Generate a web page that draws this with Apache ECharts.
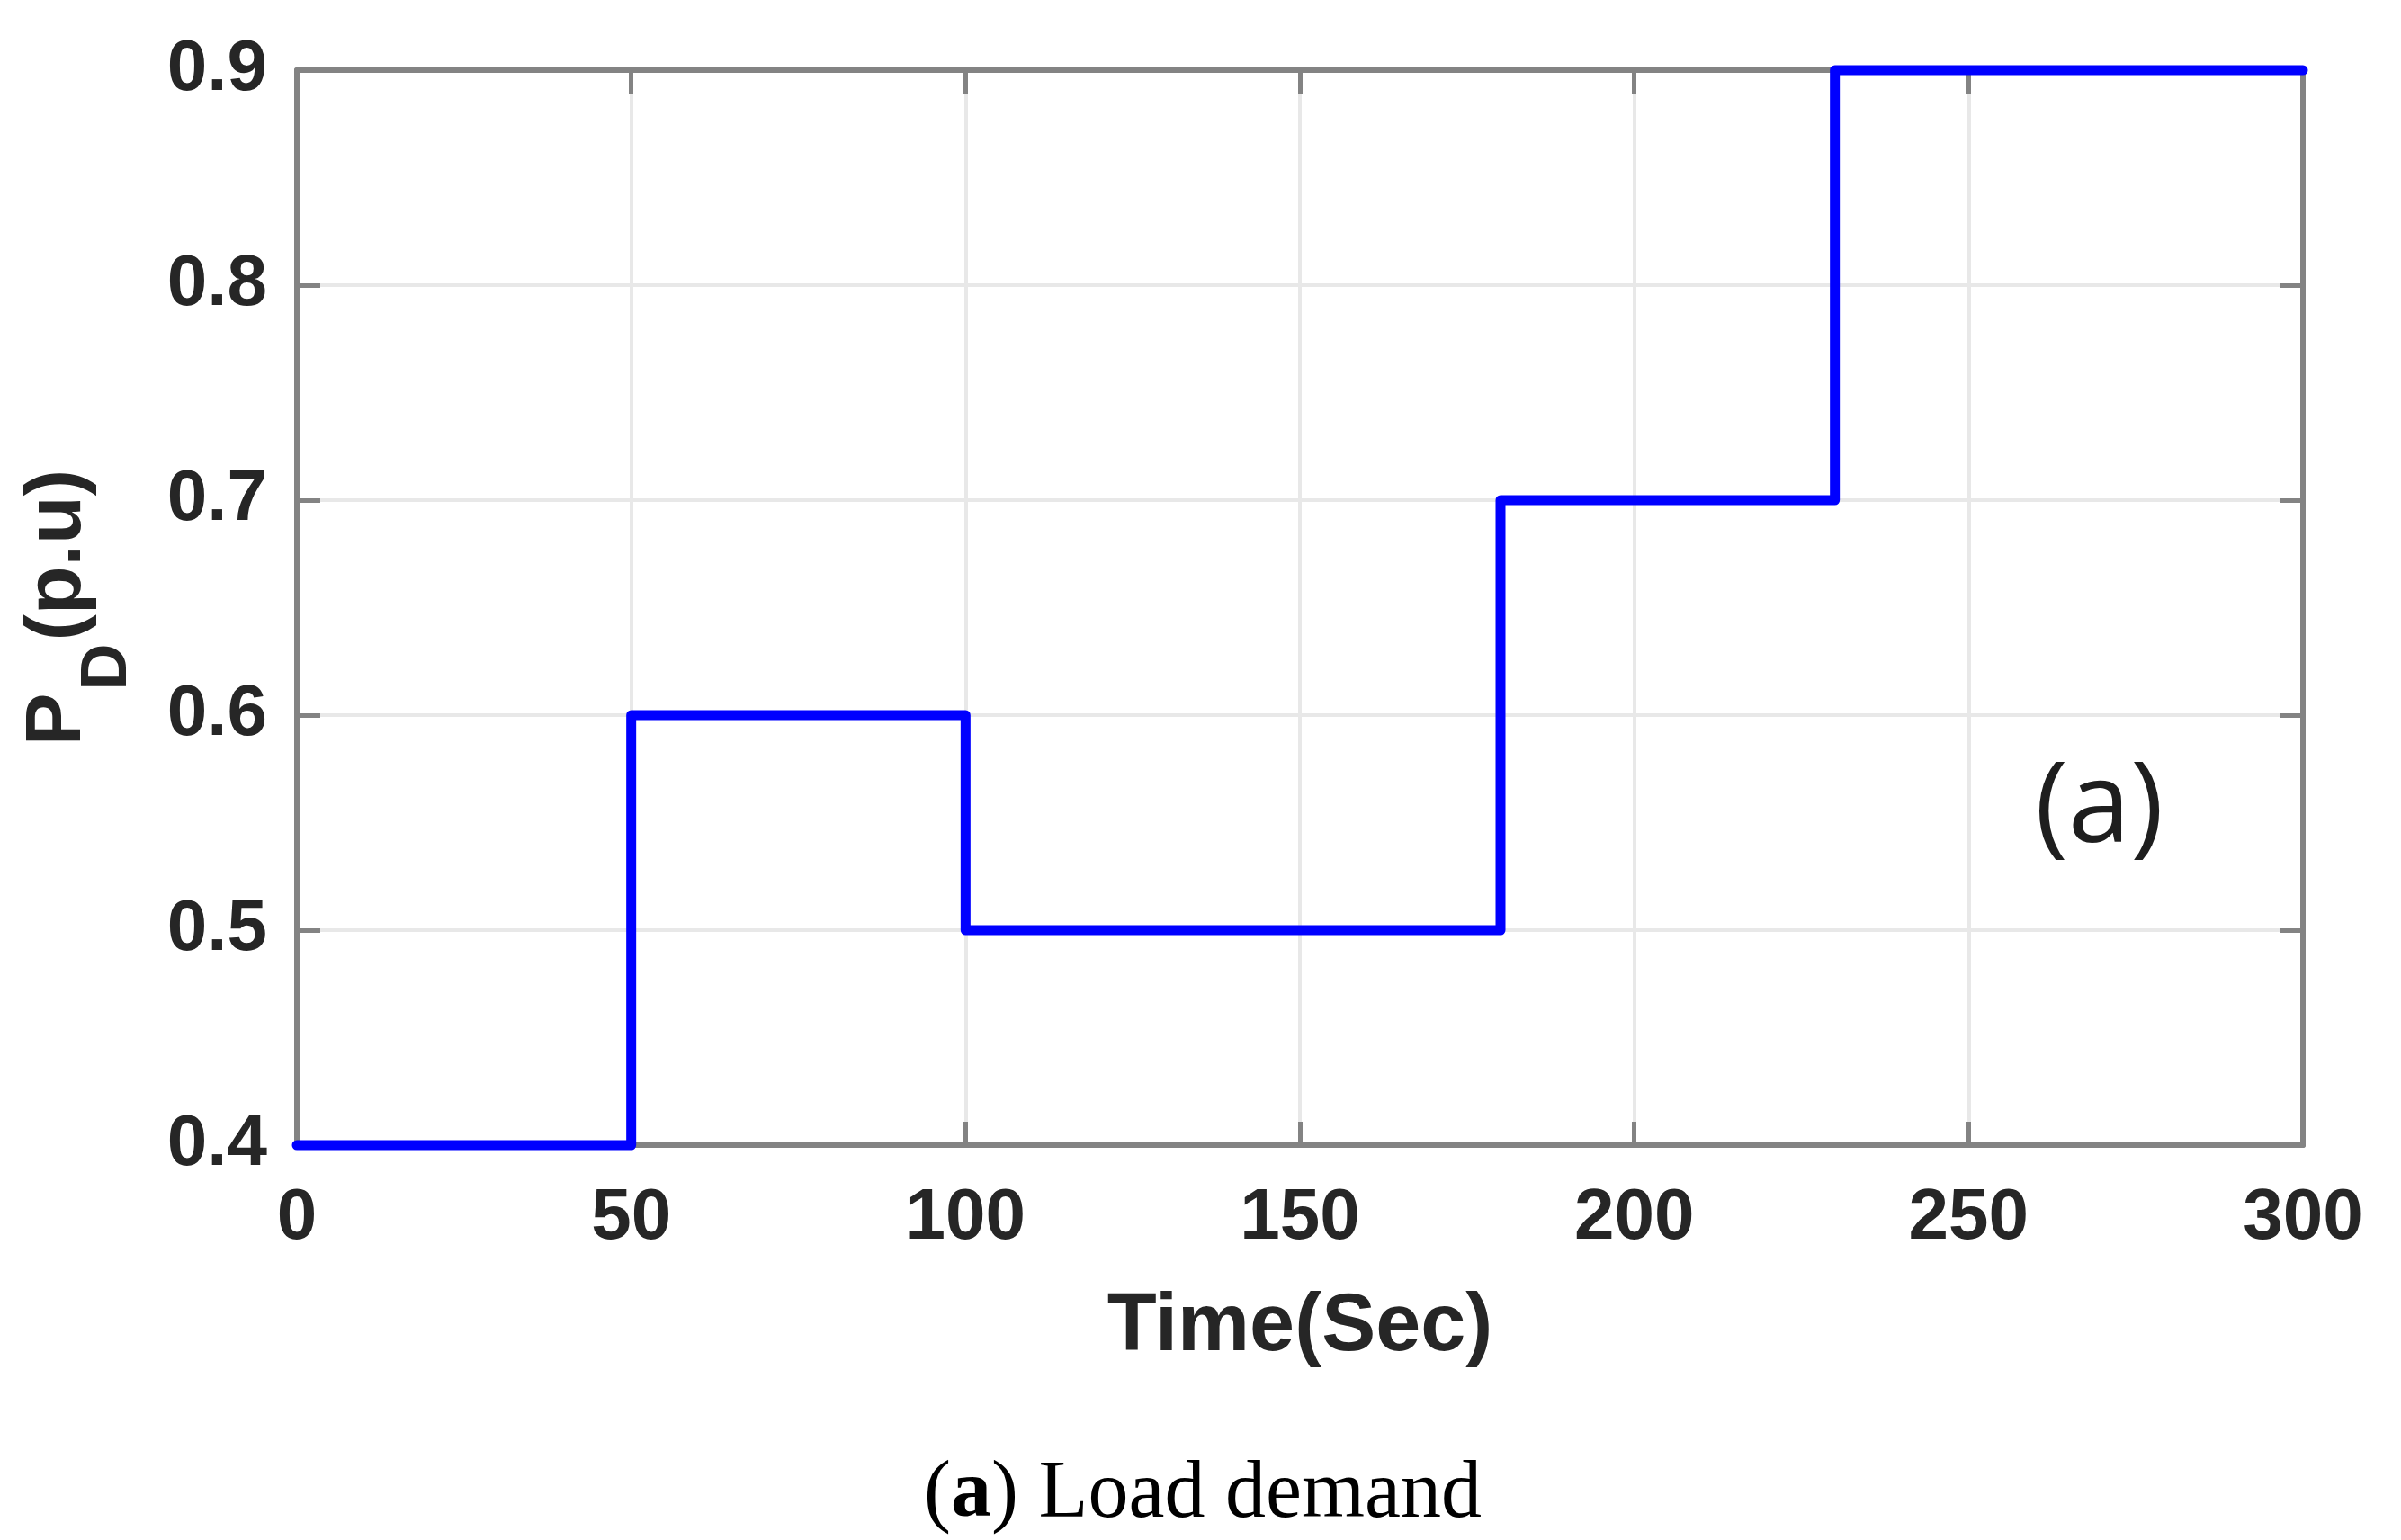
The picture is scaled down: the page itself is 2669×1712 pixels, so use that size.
<!DOCTYPE html>
<html>
<head>
<meta charset="utf-8">
<script src="https://cdn.jsdelivr.net/npm/echarts@6/dist/echarts.min.js"></script>
<style>
html,body{margin:0;padding:0;background:#fff;}
#chart{width:2669px;height:1712px;}
</style>
</head>
<body>
<div id="chart"></div>
<script>
// Data
var times = [0, 50, 100, 180, 230, 300];
var demand = [0.4, 0.6, 0.5, 0.7, 0.9, 0.9];
var xTicks = [0, 50, 100, 150, 200, 250, 300];
var yTicks = [0.4, 0.5, 0.6, 0.7, 0.8, 0.9];
var xTitle = 'Time(Sec)';
var panelTag = '(a)';
var captionBold = 'a';
var captionText = ' Load demand';

var points = times.map(function (t, i) { return [t, demand[i]]; });

var axisGray = '#838383';
var gridGray = '#e8e8e8';
var sans = '"Liberation Sans", Arial, Helvetica, sans-serif';

var chart = echarts.init(document.getElementById('chart'));
chart.setOption({
  backgroundColor: '#ffffff',
  animation: false,
  grid: { left: 330, right: 109, top: 78, bottom: 439, containLabel: false },
  xAxis: [{
    type: 'value', position: 'bottom',
    min: xTicks[0], max: xTicks[xTicks.length - 1], interval: xTicks[1] - xTicks[0],
    axisLine: { show: true, onZero: false, lineStyle: { color: axisGray, width: 6 } },
    axisTick: { show: true, inside: true, length: 26, lineStyle: { color: axisGray, width: 5 } },
    splitLine: { show: true, lineStyle: { color: gridGray, width: 4 } },
    axisLabel: { fontSize: 80, fontWeight: 'bold', fontFamily: sans, color: '#262626', margin: 42 },
    name: xTitle, nameLocation: 'middle', nameGap: 158,
    nameTextStyle: { fontSize: 90, fontWeight: 'bold', fontFamily: sans, color: '#262626' }
  }, {
    type: 'value', position: 'top',
    min: xTicks[0], max: xTicks[xTicks.length - 1], interval: xTicks[1] - xTicks[0],
    axisLine: { show: true, onZero: false, lineStyle: { color: axisGray, width: 6 } },
    axisTick: { show: true, inside: true, length: 26, lineStyle: { color: axisGray, width: 5 } },
    splitLine: { show: false },
    axisLabel: { show: false }
  }],
  yAxis: [{
    type: 'value', position: 'left',
    min: yTicks[0], max: yTicks[yTicks.length - 1], interval: 0.1,
    axisLine: { show: true, onZero: false, lineStyle: { color: axisGray, width: 6 } },
    axisTick: { show: true, inside: true, length: 26, lineStyle: { color: axisGray, width: 5 } },
    splitLine: { show: true, lineStyle: { color: gridGray, width: 4 } },
    axisLabel: {
      fontSize: 80, fontWeight: 'bold', fontFamily: sans, color: '#262626', margin: 33,
      formatter: function (v) { return v.toFixed(1); }
    },
    name: '{p|P}{d|D}{p|(p.u)}', nameLocation: 'middle', nameGap: 174,
    nameTextStyle: {
      fontFamily: sans, color: '#262626',
      rich: {
        p: { fontSize: 88, fontWeight: 'bold', fontFamily: sans, color: '#262626', verticalAlign: 'top', lineHeight: 100 },
        d: { fontSize: 72, fontWeight: 'bold', fontFamily: sans, color: '#262626', verticalAlign: 'bottom', lineHeight: 135, padding: [0, 3, 0, 3] }
      }
    }
  }, {
    type: 'value', position: 'right',
    min: yTicks[0], max: yTicks[yTicks.length - 1], interval: 0.1,
    axisLine: { show: true, onZero: false, lineStyle: { color: axisGray, width: 6 } },
    axisTick: { show: true, inside: true, length: 26, lineStyle: { color: axisGray, width: 5 } },
    splitLine: { show: false },
    axisLabel: { show: false }
  }],
  series: [{
    type: 'line',
    xAxisIndex: 0, yAxisIndex: 0,
    data: points,
    step: 'end',
    showSymbol: false,
    clip: false,
    lineStyle: { color: '#0000ff', width: 11, join: 'round', cap: 'round' },
    z: 5
  }],
  graphic: [{
    type: 'text', left: 2262, top: 838, z: 10,
    style: { text: panelTag, fontSize: 125, fontFamily: '"Open Sans", "Noto Sans", sans-serif', fill: '#1e1e1e' }
  }, {
    type: 'text', z: 10, x: 1337, y: 1662,
    style: {
      text: '{r|(}{b|' + captionBold + '}{r|)' + captionText + '}',
      align: 'center', verticalAlign: 'middle',
      rich: {
        r: { fontSize: 90, fontFamily: '"Liberation Serif", "Times New Roman", serif', fill: '#000' },
        b: { fontSize: 90, fontWeight: 'bold', fontFamily: '"Liberation Serif", "Times New Roman", serif', fill: '#000' }
      }
    }
  }]
});
</script>
</body>
</html>
